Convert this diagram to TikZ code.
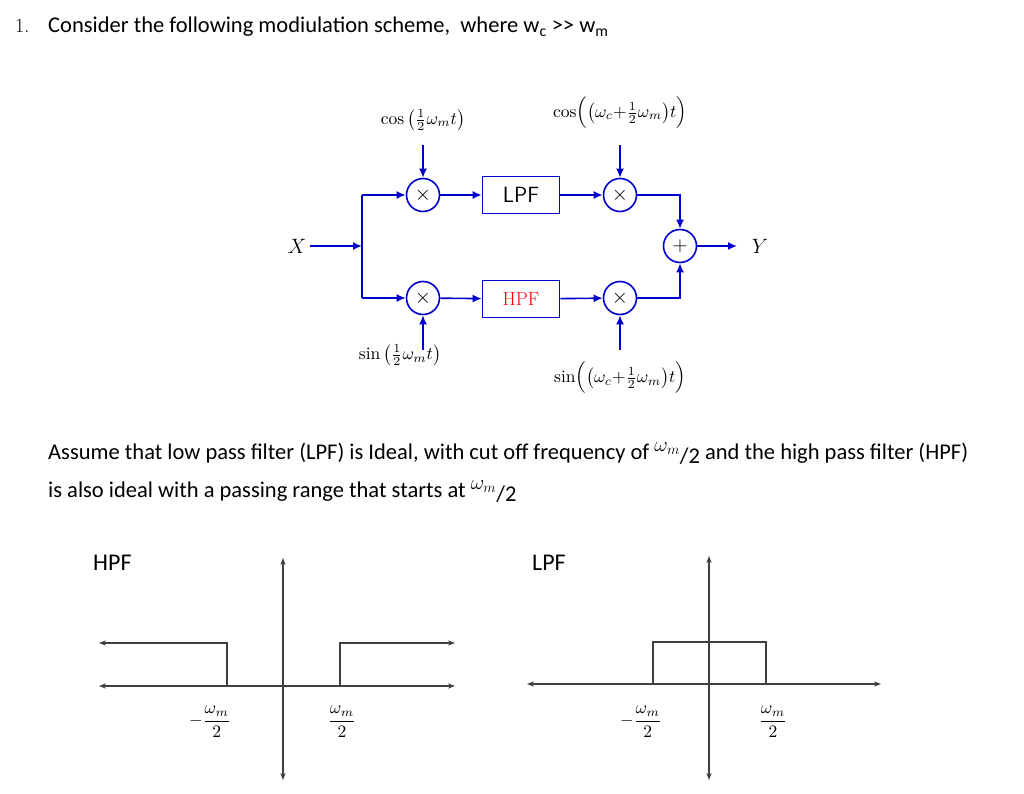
\documentclass[tikz,border=0pt]{standalone}
\usepackage{amsmath}
\usepackage{fontspec}
\newfontfamily\carl{Carlito}
\usetikzlibrary{arrows.meta}
\begin{document}
\begin{tikzpicture}[x=1pt,y=-1pt,
  sig/.style={blue!80!black,line width=1.6pt,-{Latex[length=9pt,width=8pt]}},
  wire/.style={blue!80!black,line width=1.6pt},
  mult/.style={circle,draw=blue!80!black,line width=1.6pt,minimum size=33pt,inner sep=0pt},
  filt/.style={draw=blue!80!black,line width=1.6pt,minimum width=77pt,minimum height=37pt,inner sep=0pt},
  ax/.style={draw=black!75,line width=1.2pt,{Stealth[length=7pt]}-{Stealth[length=7pt]}},
  curve/.style={draw=black!75,line width=1.2pt},
  lbl/.style={scale=1.75}]
\useasboundingbox (0,0) rectangle (1024,794);
% title
\node[anchor=base west,inner sep=0pt] (num) at (15,33) {\fontsize{20}{24}\selectfont 1.};
\node[anchor=base west,inner sep=0pt] (title) at (48,33) {\carl\fontsize{22.5}{26}\selectfont Consider the following modiulation scheme,\ \ where w\textsubscript{c} >> w\textsubscript{m}};
% block diagram
\node (X) at (297,246) {\fontsize{22}{24}\selectfont$X$};
\coordinate (J) at (362,246);
\coordinate (Jt) at (362,195);
\coordinate (Jb) at (362,298);
\node[mult] (m1) at (423,195) {\fontsize{22}{24}\selectfont$\times$};
\node[mult] (m2) at (423,298) {\fontsize{22}{24}\selectfont$\times$};
\node[filt] (lpf) at (521,195) {\sffamily\fontsize{22}{24}\selectfont LPF};
\node[filt] (hpf) at (521,299) {\color{red}\fontsize{19}{22}\selectfont HPF};
\node[mult] (m3) at (620,195) {\fontsize{22}{24}\selectfont$\times$};
\node[mult] (m4) at (620,298) {\fontsize{22}{24}\selectfont$\times$};
\node[mult] (add) at (680,246) {\fontsize{22}{24}\selectfont$+$};
\node (Y) at (760,246) {\fontsize{22}{24}\selectfont$Y$};
\node[lbl] (c1) at (423,120) {$\cos\left(\tfrac12\omega_m t\right)$};
\node[lbl] (c2) at (620,113) {$\cos\Bigl(\bigl(\omega_c{+}\tfrac12\omega_m\bigr)t\Bigr)$};
\node[lbl] (s1) at (400,355) {$\sin\left(\tfrac12\omega_m t\right)$};
\node[lbl] (s2) at (620,378) {$\sin\Bigl(\bigl(\omega_c{+}\tfrac12\omega_m\bigr)t\Bigr)$};
\draw[sig] (X.east) -- (J);
\draw[wire] (Jt) -- (Jb);
\draw[sig] (Jt) -- (m1);
\draw[sig] (Jb) -- (m2);
\draw[sig] (m1) -- (lpf);
\draw[sig] (m2) -- (hpf);
\draw[sig] (lpf) -- (m3);
\draw[sig] (hpf) -- (m4);
\draw[sig] (m3.east) -| (add.north);
\draw[sig] (m4.east) -| (add.south);
\draw[sig] (add) -- (737,246);
\draw[sig] (423,145) -- (m1);
\draw[sig] (620,145) -- (m3);
\draw[sig] (423,350) -- (m2);
\draw[sig] (620,350) -- (m4);
% text
\node[anchor=base west,inner sep=0pt] (t1) at (48,459) {\carl\fontsize{22.5}{26}\selectfont Assume that low pass filter (LPF) is Ideal, with cut off frequency of \raisebox{8pt}{$\omega_m$}\raisebox{-4pt}{/2} and the high pass filter (HPF)};
\node[anchor=base west,inner sep=0pt] (t2) at (48,497) {\carl\fontsize{22.5}{26}\selectfont is also ideal with a passing range that starts at \raisebox{8pt}{$\omega_m$}\raisebox{-4pt}{/2}};
% HPF plot
\node[anchor=west,inner sep=0pt] (hl) at (93,563) {\carl\fontsize{24}{26}\selectfont HPF};
\draw[ax] (283,780) -- (283,558);
\draw[ax] (99,686) -- (455,686);
\draw[curve,{Stealth[length=7pt]}-] (99,643) -- (227,643) -- (227,686);
\draw[curve,-{Stealth[length=7pt]}] (340,686) -- (340,643) -- (455,643);
\node[lbl] (h1) at (210,722) {$-\dfrac{\omega_m}{2}$};
\node[lbl] (h2) at (342,722) {$\dfrac{\omega_m}{2}$};
% LPF plot
\node[anchor=west,inner sep=0pt] (ll) at (532,563) {\carl\fontsize{24}{26}\selectfont LPF};
\draw[ax] (709,780) -- (709,556);
\draw[ax] (527,684) -- (881,684);
\draw[curve] (653,684) -- (653,642) -- (766,642) -- (766,684);
\node[lbl] (l1) at (641,722) {$-\dfrac{\omega_m}{2}$};
\node[lbl] (l2) at (773,722) {$\dfrac{\omega_m}{2}$};
\end{tikzpicture}
\end{document}
